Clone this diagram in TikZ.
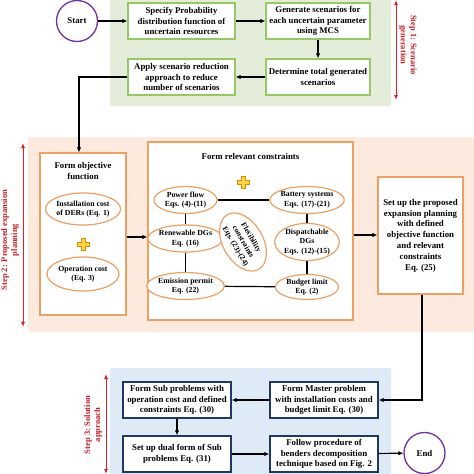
\documentclass[tikz,border=0pt]{standalone}
\usepackage{fontspec}
\setmainfont{Liberation Serif}
\usetikzlibrary{arrows.meta,shapes.geometric}
\definecolor{greenbg}{RGB}{228,237,218}
\definecolor{greenbd}{RGB}{150,200,100}
\definecolor{orangebg}{RGB}{252,234,222}
\definecolor{orangebd}{RGB}{236,160,100}
\definecolor{bluebg}{RGB}{222,235,246}
\definecolor{bluebd}{RGB}{31,56,100}
\definecolor{purplebd}{RGB}{112,48,160}
\definecolor{redarr}{RGB}{225,30,40}
\definecolor{redtxt}{RGB}{200,30,40}
\definecolor{plusfill}{RGB}{255,210,70}
\definecolor{plusbd}{RGB}{205,150,0}
\tikzset{
  every node/.style={align=center,font=\bfseries\fontsize{8.8}{10.8}\selectfont},
  gbox/.style={draw=greenbd,line width=1.2pt,fill=white,inner sep=1pt},
  obox/.style={draw=orangebd,line width=1.2pt,fill=white,inner sep=1pt},
  bbox/.style={draw=bluebd,line width=1.3pt,fill=white,inner sep=1pt,minimum width=108pt,minimum height=36pt},
  oval/.style={ellipse,draw=orangebd,line width=1.2pt,fill=white,inner sep=0pt,
    font=\bfseries\fontsize{7.8}{9.6}\selectfont},
  term/.style={circle,draw=purplebd,line width=1.3pt,fill=white,inner sep=0pt},
  arr/.style={line width=1.2pt,-{Latex[length=5pt,width=4.5pt]}},
  link/.style={line width=1.2pt},
  redline/.style={draw=redarr,line width=1pt,{Latex[length=5pt,width=4pt]}-{Latex[length=5pt,width=4pt]}},
  steplabel/.style={text=redtxt,font=\bfseries\fontsize{8.5}{10}\selectfont},
  plussign/.pic={\filldraw[fill=plusfill,draw=plusbd,line width=0.6pt]
    (-2,-6) -- (2,-6) -- (2,-2) -- (6,-2) -- (6,2) -- (2,2) -- (2,6) -- (-2,6) -- (-2,2) -- (-6,2) -- (-6,-2) -- (-2,-2) -- cycle;}
}
\begin{document}
\begin{tikzpicture}[x=1pt,y=-1pt]
\clip (0,0) rectangle (474,474);
\fill[white] (0,0) rectangle (474,474);
% backgrounds
\fill[greenbg,rounded corners=2pt] (110,-5) rectangle (391,106);
\fill[orangebg,rounded corners=2pt] (28,137) rectangle (480,332);
\fill[bluebg,rounded corners=2pt] (110,368) rectangle (391,480);
% step markers
\draw[redline] (396,0) -- (396,100);
\node[steplabel,rotate=-90] (s1) at (408,45) {Step 1: Scenario\\generation};
\draw[redline] (23,143) -- (23,327);
\node[steplabel,rotate=90] (s2) at (10,240) {Step 2: Proposed expansion\\planning};
\draw[redline] (106,374) -- (106,474);
\node[steplabel,rotate=90] (s3) at (93,425) {Step 3: Solution\\approach};
% step 1
\node[term,minimum size=41pt] (start) at (77,21) {Start};
\node[gbox,minimum width=107pt,minimum height=36pt] (spec) at (181.5,21) {Specify Probability\\distribution function of\\uncertain resources};
\node[gbox,minimum width=104pt,minimum height=36pt] (gen) at (318,21) {Generate scenarios for\\each uncertain parameter\\using MCS};
\node[gbox,minimum width=104pt,minimum height=36pt] (det) at (318,77) {Determine total generated\\scenarios};
\node[gbox,minimum width=107pt,minimum height=36pt] (apply) at (181.5,77) {Apply scenario reduction\\approach to reduce\\number of scenarios};
\draw[arr] (start) -- (spec);
\draw[arr] (spec) -- (gen);
\draw[arr] (gen) -- (det);
\draw[arr] (det) -- (apply);
% step 2
\node[obox,minimum width=86pt,minimum height=162pt] (obj) at (83,234) {};
\node (objt) at (83,171) {Form objective\\function};
\node[oval,minimum width=72pt,minimum height=32pt] (inst) at (83,209) {Installation cost\\of DERs (Eq. 1)};
\pic at (83,244) {plussign};
\node[oval,minimum width=72pt,minimum height=34pt] (oper) at (83,274) {Operation cost\\(Eq. 3)};
\coordinate (drop) at (79,77);
\draw[arr] (apply.west) -- (drop) -- (drop |- obj.north);

\node[obox,minimum width=205pt,minimum height=178pt] (cons) at (250.5,231) {};
\node (const) at (250.5,156) {Form relevant constraints};
\pic at (243,182) {plussign};
\node[oval,minimum width=63pt,minimum height=27pt] (pf) at (185.5,200) {Power flow\\Eqs. (4)-(11)};
\node[oval,minimum width=63pt,minimum height=27pt] (bat) at (307,200) {Battery systems\\Eqs. (17)-(21)};
\node[oval,minimum width=63pt,minimum height=27pt] (ren) at (185.5,238.5) {Renewable DGs\\Eq. (16)};
\node[oval,minimum width=63pt,minimum height=31pt] (disp) at (307,242) {Dispatchable\\DGs\\Eqs. (12)-(15)};
\node[oval,minimum width=63pt,minimum height=27pt] (emi) at (185.5,286) {Emission permit\\Eq. (22)};
\node[oval,minimum width=63pt,minimum height=25pt] (bud) at (307,287) {Budget limit\\Eq. (2)};
\node[oval,rotate=-60,minimum width=63pt,minimum height=40pt,font=\bfseries\fontsize{7.6}{9}\selectfont] (flex) at (243,242) {Flexibility\\constraints\\Eqs. (23)-(24)};
\draw[link] (pf) -- (bat);
\draw[link] (emi) -- (bud);
\draw[link] (pf) -- (ren);
\draw[link] (ren) -- (emi);
\draw[link] (bat) -- (disp);
\draw[link] (disp) -- (bud);

\node[obox,minimum width=85pt,minimum height=117pt] (setup) at (420.5,235.5) {Set up the proposed\\expansion planning\\with defined\\objective function\\and relevant\\constraints\\Eq. (25)};
\draw[arr] ([yshift=-3pt]obj.east) -- ([yshift=-6pt]cons.west);
\draw[arr] ([yshift=-4pt]cons.east) -- ([yshift=0.5pt]setup.west);
% step 3
\node[bbox] (sub) at (177,400) {Form Sub problems with\\operation cost and defined\\constraints Eq. (30)};
\node[bbox] (master) at (324,400) {Form Master problem\\with installation costs and\\budget limit Eq. (30)};
\node[bbox] (dual) at (177,454) {Set up dual form of Sub\\problems Eq. (31)};
\node[bbox] (follow) at (324,454) {Follow procedure of\\benders decomposition\\technique based on Fig. 2};
\node[term,minimum size=41pt] (end) at (424.5,453) {End};
\coordinate (bend) at ([xshift=1.5pt]setup.south |- master.east);
\draw[arr] ([xshift=1.5pt]setup.south) -- (bend) -- (master.east);
\draw[arr] (master) -- (sub);
\draw[arr] (sub) -- (dual);
\draw[arr] (dual) -- (follow);
\draw[arr] (follow) -- (end);
\end{tikzpicture}
\end{document}
